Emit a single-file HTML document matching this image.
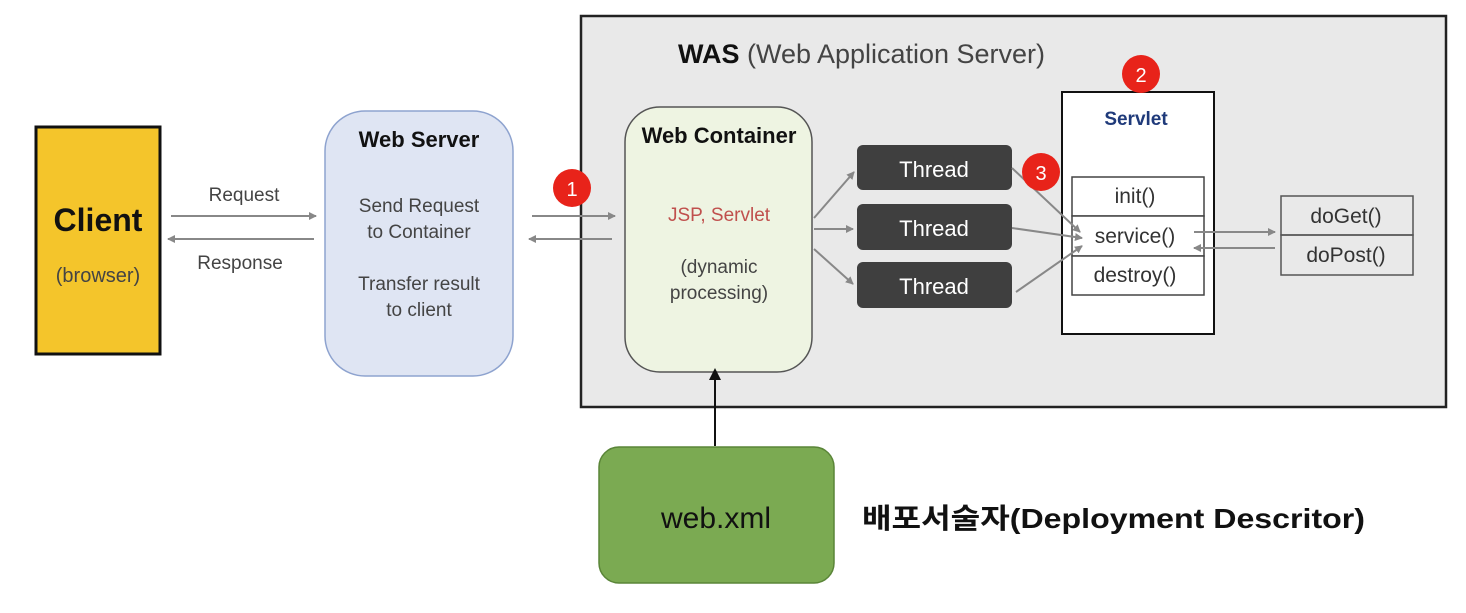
<!DOCTYPE html>
<html><head><meta charset="utf-8"><style>
body{margin:0;background:#fff;}
svg text{font-family:"Liberation Sans","Noto Sans CJK KR",sans-serif;}
</style></head><body>
<svg width="1466" height="608" viewBox="0 0 1466 608" xmlns="http://www.w3.org/2000/svg">
<defs>
<marker id="a" markerWidth="8" markerHeight="8" refX="7" refY="4" orient="auto" markerUnits="userSpaceOnUse"><path d="M0,0 L8,4 L0,8 z" fill="#888"/></marker>
<marker id="b" markerWidth="12" markerHeight="12" refX="6" refY="6" orient="auto" markerUnits="userSpaceOnUse"><path d="M0,0 L12,6 L0,12 z" fill="#111"/></marker>
</defs>
<rect x="581" y="16" width="865" height="391" fill="#e9e9e9" stroke="#222" stroke-width="2.5"/>
<text x="678" y="63" font-size="27" fill="#111" textLength="367" lengthAdjust="spacingAndGlyphs"><tspan font-weight="bold">WAS</tspan><tspan fill="#444"> (Web Application Server)</tspan></text>
<rect x="36" y="127" width="124" height="227" fill="#f4c52b" stroke="#111" stroke-width="3"/>
<text x="98" y="231" font-size="32" font-weight="bold" text-anchor="middle" fill="#111">Client</text>
<text x="98" y="282" font-size="20" text-anchor="middle" fill="#444">(browser)</text>
<line x1="171" y1="216" x2="316" y2="216" stroke="#888" stroke-width="2" marker-end="url(#a)"/>
<line x1="314" y1="239" x2="168" y2="239" stroke="#888" stroke-width="2" marker-end="url(#a)"/>
<text x="244" y="201" font-size="19" text-anchor="middle" fill="#444">Request</text>
<text x="240" y="269" font-size="19" text-anchor="middle" fill="#444">Response</text>
<rect x="325" y="111" width="188" height="265" rx="40" fill="#dfe5f3" stroke="#8ea3cf" stroke-width="1.5"/>
<text x="419" y="147" font-size="22" font-weight="bold" text-anchor="middle" fill="#111">Web Server</text>
<g font-size="19" text-anchor="middle" fill="#444"><text x="419" y="212">Send Request</text><text x="419" y="238">to Container</text><text x="419" y="290">Transfer result</text><text x="419" y="316">to client</text></g>
<line x1="532" y1="216" x2="615" y2="216" stroke="#888" stroke-width="2" marker-end="url(#a)"/>
<line x1="612" y1="239" x2="529" y2="239" stroke="#888" stroke-width="2" marker-end="url(#a)"/>
<circle cx="572" cy="188" r="19" fill="#e8231a"/><text x="572" y="196" font-size="20" fill="#fff" text-anchor="middle">1</text>
<rect x="625" y="107" width="187" height="265" rx="35" fill="#eef4e2" stroke="#555" stroke-width="1.5"/>
<text x="719" y="143" font-size="22" font-weight="bold" text-anchor="middle" fill="#111">Web Container</text>
<text x="719" y="221" font-size="19" text-anchor="middle" fill="#c0504d">JSP, Servlet</text>
<text x="719" y="273" font-size="19" text-anchor="middle" fill="#444">(dynamic</text>
<text x="719" y="299" font-size="19" text-anchor="middle" fill="#444">processing)</text>
<g stroke="#888" stroke-width="2" fill="none">
<line x1="814" y1="218" x2="854" y2="172" marker-end="url(#a)"/>
<line x1="814" y1="229" x2="853" y2="229" marker-end="url(#a)"/>
<line x1="814" y1="249" x2="853" y2="284" marker-end="url(#a)"/>
</g>
<g fill="#3f3f3f"><rect x="857" y="145" width="155" height="45" rx="6"/><rect x="857" y="204" width="155" height="46" rx="6"/><rect x="857" y="262" width="155" height="46" rx="6"/></g>
<g font-size="22" fill="#fff" text-anchor="middle"><text x="934" y="177">Thread</text><text x="934" y="236">Thread</text><text x="934" y="294">Thread</text></g>
<rect x="1062" y="92" width="152" height="242" fill="#fff" stroke="#111" stroke-width="2"/>
<text x="1136" y="125" font-size="19" font-weight="bold" text-anchor="middle" fill="#1f3a7a">Servlet</text>
<g fill="#fff" stroke="#444" stroke-width="1.5"><rect x="1072" y="177" width="132" height="39"/><rect x="1072" y="216" width="132" height="40"/><rect x="1072" y="256" width="132" height="39"/></g>
<g font-size="21" fill="#333" text-anchor="middle"><text x="1135" y="203">init()</text><text x="1135" y="243">service()</text><text x="1135" y="282">destroy()</text></g>
<g fill="none" stroke="#555" stroke-width="1.5"><rect x="1281" y="196" width="132" height="39"/><rect x="1281" y="235" width="132" height="40"/></g>
<g font-size="21" fill="#333" text-anchor="middle"><text x="1346" y="223">doGet()</text><text x="1346" y="262">doPost()</text></g>
<g stroke="#888" stroke-width="2" fill="none">
<line x1="1012" y1="168" x2="1080" y2="232" marker-end="url(#a)"/>
<line x1="1012" y1="228" x2="1082" y2="238" marker-end="url(#a)"/>
<line x1="1016" y1="292" x2="1082" y2="246" marker-end="url(#a)"/>
<line x1="1194" y1="232" x2="1275" y2="232" marker-end="url(#a)"/>
<line x1="1275" y1="248" x2="1194" y2="248" marker-end="url(#a)"/>
</g>
<circle cx="1141" cy="74" r="19" fill="#e8231a"/><text x="1141" y="82" font-size="20" fill="#fff" text-anchor="middle">2</text>
<circle cx="1041" cy="172" r="19" fill="#e8231a"/><text x="1041" y="180" font-size="20" fill="#fff" text-anchor="middle">3</text>
<line x1="715" y1="446" x2="715" y2="374" stroke="#111" stroke-width="2" marker-end="url(#b)"/>
<rect x="599" y="447" width="235" height="136" rx="20" fill="#7baa52" stroke="#5a8538" stroke-width="1.5"/>
<text x="716" y="528" font-size="30" text-anchor="middle" fill="#111">web.xml</text>
<text x="862" y="528" font-size="28" font-weight="bold" fill="#111" textLength="503" lengthAdjust="spacingAndGlyphs">배포서술자(Deployment Descritor)</text>
</svg>
</body></html>
